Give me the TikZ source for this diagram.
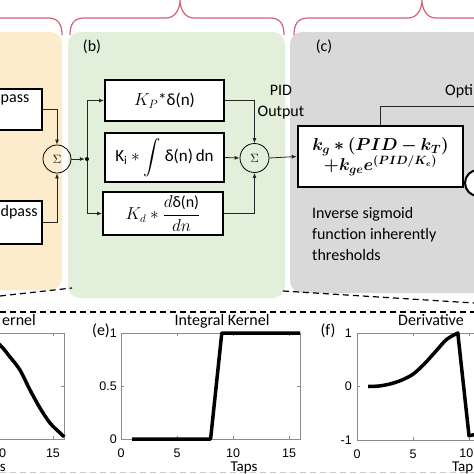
\documentclass[tikz,border=0pt]{standalone}
\usepackage{amsmath}
\usepackage{bm}
\usepackage{fontspec}
\setmainfont{Carlito}
\newfontfamily\arialf{Liberation Sans}
\usetikzlibrary{arrows.meta,calc}
\definecolor{bgA}{RGB}{252,236,204}
\definecolor{bgB}{RGB}{226,239,218}
\definecolor{bgC}{RGB}{217,217,217}
\definecolor{braceC}{RGB}{214,96,120}
\tikzset{
 blk/.style={draw, line width=2pt, fill=white, inner sep=0pt},
 sumc/.style={circle, draw, line width=0.8pt, minimum size=28pt, inner sep=0pt, font=\fontsize{12}{12}\selectfont},
 conn/.style={line width=0.8pt, draw=black!85},
 arr/.style={conn, -{Latex[length=5pt,width=4pt]}},
 txt/.style={font=\fontsize{16}{21}\selectfont, inner sep=0pt},
 smtxt/.style={font=\fontsize{15}{15}\selectfont, inner sep=0pt},
 boxtxt/.style={font=\fontsize{17}{21}\selectfont},
 dashline/.style={line width=1.2pt, dash pattern=on 6pt off 4pt},
 axisf/.style={draw=black!45, line width=0.6pt},
 datal/.style={line width=3.5pt, line join=round},
 tickl/.style={font=\arialf\fontsize{12.5}{12.5}\selectfont, inner sep=0pt},
 bracel/.style={draw=braceC, line width=1.2pt},
}
\begin{document}
\begin{tikzpicture}[x=1pt,y=-1pt]
\useasboundingbox (0,0) rectangle (474,474);
\clip (0,0) rectangle (474,474);
\fill[white] (0,0) rectangle (474,474);
% panels
\fill[bgA, rounded corners=12pt] (-30,32) rectangle (62,290);
\fill[bgB, rounded corners=12pt] (68,32) rectangle (285,298);
\fill[bgC, rounded corners=12pt] (290,32) rectangle (520,293);
% braces
\draw[bracel] (-10,18) -- (48,18) .. controls (58,18) and (62,24) .. (62,35);
\draw[bracel] (70,35) .. controls (70,24) and (74,18) .. (84,18) -- (166,18) .. controls (176,18) and (180,8) .. (180,0) .. controls (180,8) and (184,18) .. (194,18) -- (270,18) .. controls (280,18) and (284,24) .. (284,35);
\draw[bracel] (294,35) .. controls (294,24) and (298,18) .. (308,18) -- (408,18) .. controls (418,18) and (422,8) .. (422,0) .. controls (422,8) and (426,18) .. (436,18) -- (490,18);
% panel (a)
\node[blk, minimum width=70pt, minimum height=41pt, anchor=north east] (lp) at (43,88) {};
\node[txt] (lpt) at (15,100) {pass};
\node[blk, minimum width=70pt, minimum height=43pt, anchor=north east] (bp) at (43,200) {};
\node[txt, anchor=west] (bpt) at (0.5,212) {dpass};
\node[sumc] (s1) at (57,159) {$\Sigma$};
\node[circle, fill=black, inner sep=0pt, minimum size=4pt] (j) at (87,159) {};
\draw[arr] (lp.east) -| (s1.north);
\draw[arr] (bp.east) -| (s1.south);
\draw[arr] (s1.east) -- (j.west);
% panel (b)
\node[txt] (lb) at (92,47) {(b)};
\node[blk, boxtxt, minimum width=119pt, minimum height=41pt] (kp) at (164.5,100.5) {$K_P$*δ(n)};
\node[blk, boxtxt, minimum width=119pt, minimum height=49pt] (ki) at (164.5,157.5) {$\mathrm{K_i} * \displaystyle\int$ δ(n)\,dn};
\node[blk, font=\fontsize{16}{20}\selectfont, minimum width=120pt, minimum height=43pt] (kd) at (163,213.5) {$K_d * \dfrac{d\text{δ(n)}}{dn}$};
\draw[arr] (j) |- (kp.west);
\draw[arr] (j) |- (kd.west);
\node[sumc, minimum size=29pt] (s2) at (254.5,158) {$\Sigma$};
\draw[arr] (kp.east) -| (s2.north);
\draw[arr] (ki.east) -- (s2.west);
\draw[arr] (kd.east) -| (s2.south);
\node[txt, align=center] (pidl) at (281,102.5) {PID\\Output};
% panel (c)
\node[txt] (lc) at (324,47) {(c)};
\node[blk, line width=2.4pt, minimum width=165pt, minimum height=61pt, align=center, font=\fontsize{17}{21}\selectfont] (F) at (380.5,156.5) {$\bm{k_g * (PID - k_T)}$\\[-1pt]$\bm{+k_{ge}e^{(PID/K_e)}}$};
\draw[arr] (s2.east) -- (F.west);
\coordinate (optend) at (490,106);
\draw[conn] (F.north) |- (optend);
\node[txt, anchor=west] (opt) at (445,91) {Opti};
\node[circle, draw, line width=2pt, minimum size=26pt, fill=white] (outc) at (478,183) {};
\node[txt, anchor=west, align=left] (inv) at (312,234) {Inverse sigmoid\\function inherently\\thresholds};
% zoom dashed lines
\draw[dashline] (0,296) -- (72,288);
\draw[dashline] (283,291) -- (474,303);
\draw[dashline] (0,312) -- (474,312);
\draw[dashline, draw=black!20, line width=1pt] (0,472) -- (474,472);
% plot (d)
\begin{scope}[shift={(-115,439)}, x=11.2pt, y=106pt]
\draw[axisf] (0,0) rectangle (16,1);
\foreach \t in {5,10,15} {\draw[axisf] (\t,0) -- ++(0,0.03); \draw[axisf] (\t,1) -- ++(0,-0.03);}
\draw[axisf] (16,0.5) -- ++(-0.3,0);
\draw[datal] plot[smooth] coordinates {(8,1) (9,0.99) (10.27,0.887) (11.16,0.774) (12.05,0.651) (12.95,0.462) (13.84,0.292) (14.73,0.151) (15.63,0.057) (16,0.02)};
\node[tickl, yshift=-14pt] (d15) at (15,0) {15};
\end{scope}
\node[tickl] (d10) at (2.5,453) {0};
\node[smtxt, anchor=east] (dtaps) at (6,468) {s};
\node[txt, anchor=base west] (dtitle) at (2,325) {ernel};
% plot (e)
\begin{scope}[shift={(121,439)}, x=11.2pt, y=106pt]
\draw[axisf] (0,0) rectangle (16,1);
\foreach \t in {5,10,15} {\draw[axisf] (\t,0) -- ++(0,0.03); \draw[axisf] (\t,1) -- ++(0,-0.03);}
\draw[axisf] (0,0.5) -- ++(0.3,0); \draw[axisf] (16,0.5) -- ++(-0.3,0);
\draw[datal] (1,0) -- (8,0) -- (9,1) -- (16,1);
\foreach \t in {0,5,10,15} {\node[tickl, yshift=-14pt] at (\t,0) {\t};}
\node[tickl, anchor=east, xshift=-4pt] (e1) at (0,1) {1};
\node[tickl, anchor=east, xshift=-4pt] (e05) at (0,0.5) {0.5};
\node[tickl, anchor=east, xshift=-4pt] (e0) at (0,0) {0};
\end{scope}
\node[txt] (elab) at (101,331) {(e)};
\node[smtxt] (etaps) at (244,468) {Taps};
\node[txt, anchor=base] (etitle) at (222,325) {Integral Kernel};
% plot (f)
\begin{scope}[shift={(357,386.5)}, x=11.2pt, y=53.5pt]
\draw[axisf] (0,-1) rectangle (16,1);
\foreach \t in {5,10,15} {\draw[axisf] (\t,-1) -- ++(0,0.06); \draw[axisf] (\t,1) -- ++(0,-0.06);}
\draw[axisf] (0,0) -- ++(0.3,0);
\draw[datal] plot[smooth] coordinates {(1,0) (2,0.01) (3,0.05) (4,0.12) (5,0.23) (6,0.42) (7,0.65) (8,0.88) (9,1)} -- (10,-0.92) -- (11,-0.88);
\foreach \t in {0,5} {\node[tickl, yshift=-14pt] at (\t,-1) {\t};}
\node[tickl, anchor=east, xshift=-5pt] (f1) at (0,1) {1};
\node[tickl, anchor=east, xshift=-5pt] (f0) at (0,0) {0};
\node[tickl, anchor=east, xshift=-5pt] (fm1) at (0,-1) {-1};
\end{scope}
\node[tickl, anchor=east] (f10) at (473.5,453) {10};
\node[smtxt, anchor=east] (ftaps) at (473.5,468) {Tap};
\node[txt] (flab) at (328,331) {(f)};
\node[txt, anchor=base west] (ftitle) at (398,325) {Derivative};
\end{tikzpicture}
\end{document}
